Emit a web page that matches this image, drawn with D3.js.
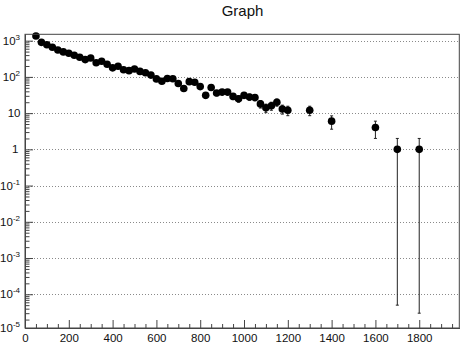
<html><head><meta charset="UTF-8">
  <style>
    body { margin: 0; background: white; font-family: "Liberation Sans", Helvetica, Arial, sans-serif; }
    svg { display: block; }
  </style>
</head>
<body>
  <svg id="chart">
    <g id="grid"></g>
    <g id="xAxis"></g>
    <g id="xMinor"></g>
    <g id="yAxis"></g>
    <g id="yMinor"></g>
    <g id="bars"></g>
    <g id="dots"></g>
  </svg>
  <script src="https://cdn.jsdelivr.net/npm/d3@7"></script>
  <script>
    // data
    var xValues = [50, 75, 100, 125, 150, 175, 200, 225, 250, 275,
                   300, 325, 350, 375, 400, 425, 450, 475, 500, 525,
                   550, 575, 600, 625, 650, 675, 700, 725, 750, 775,
                   800, 825, 850, 875, 900, 925, 950, 975, 1000, 1025,
                   1050, 1075, 1100, 1125, 1150, 1175, 1200, 1300, 1400, 1600,
                   1700, 1800];
    var yValues = [1350, 900, 775, 660, 555, 490, 450, 395, 348, 300,
                   332, 246, 270, 223, 178, 196, 158, 149, 166, 142,
                   130, 112, 88, 76, 90, 89, 66, 48, 74, 71,
                   54, 31, 51, 36, 38, 38, 29, 25, 31, 28,
                   27, 18, 14, 16, 20, 13, 12, 12, 6, 4,
                   1, 1];
    var yErrors = [36.7, 30, 27.8, 25.7, 23.6, 22.1, 21.2, 19.9, 18.7, 17.3,
                   18.2, 15.7, 16.4, 14.9, 13.3, 14, 12.6, 12.2, 12.9, 11.9,
                   11.4, 10.6, 9.4, 8.7, 9.5, 9.4, 8.1, 6.9, 8.6, 8.4,
                   7.3, 5.6, 7.1, 6, 6.2, 6.2, 5.4, 5, 5.6, 5.3,
                   5.2, 4.2, 3.7, 4, 4.5, 3.6, 3.5, 3.5, 2.4, 2,
                   0.99995, 0.99997];
    var xMajorTicks = [0, 200, 400, 600, 800, 1000, 1200, 1400, 1600, 1800];
    var yMajorTicks = [1e-4, 1e-3, 1e-2, 1e-1, 1, 10, 100, 1000];
    var titleText = "Graph";

    var width = 474, height = 349;
    var padLeft = 25, padRight = 459.3, padTop = 34.3, padBottom = 328;

    var points = xValues.map(function (d, i) {
      return {x: d, y: yValues[i], e: yErrors[i]};
    });

    var svg = d3.select("#chart").attr("width", width).attr("height", height);

    var xScale = d3.scaleLinear().domain([0, 1983]).range([padLeft, padRight]);
    var yScale = d3.scaleLog().domain([1.17e-5, 1500]).range([padBottom, padTop]);
    var yMin = yScale.domain()[0];

    // minor tick values
    var xMinorTicks = d3.range(0, 1983, 50).filter(function (d) { return d % 200 != 0; });
    var yMinorTicks = [];
    for (var p = -5; p <= 3; p++) {
      for (var m = 2; m <= 9; m++) {
        var v = m * Math.pow(10, p);
        if (v > yScale.domain()[0] && v < yScale.domain()[1]) yMinorTicks.push(v);
      }
    }

    // grid
    svg.select("#grid").selectAll("line")
      .data(yMajorTicks)
      .enter().append("line")
      .attr("x1", padLeft).attr("x2", padRight)
      .attr("y1", function (d) { return Math.round(yScale(d)) + 0.5; })
      .attr("y2", function (d) { return Math.round(yScale(d)) + 0.5; })
      .attr("stroke", "#8a8a8a")
      .attr("stroke-dasharray", "1,2");

    // frame
    svg.append("rect")
      .attr("x", padLeft).attr("y", padTop)
      .attr("width", padRight - padLeft).attr("height", padBottom - padTop)
      .attr("fill", "none").attr("stroke", "#444");

    // x axis
    var xAxis = d3.axisBottom(xScale).tickValues(xMajorTicks)
      .tickSize(-8).tickSizeOuter(0).tickPadding(6)
      .tickFormat(d3.format("d"));
    d3.select("#xAxis").attr("transform", "translate(0," + padBottom + ")").call(xAxis);
    var xMinorAxis = d3.axisBottom(xScale).tickValues(xMinorTicks)
      .tickSize(-4).tickSizeOuter(0).tickFormat("");
    d3.select("#xMinor").attr("transform", "translate(0," + padBottom + ")").call(xMinorAxis);

    // y axis
    var yAxis = d3.axisLeft(yScale).tickValues(yMajorTicks)
      .tickSize(-8).tickSizeOuter(0).tickPadding(5)
      .tickFormat("");
    d3.select("#yAxis").attr("transform", "translate(" + padLeft + ",0)").call(yAxis);
    var yMinorAxis = d3.axisLeft(yScale).tickValues(yMinorTicks)
      .tickSize(-4.5).tickSizeOuter(0).tickFormat("");
    d3.select("#yMinor").attr("transform", "translate(" + padLeft + ",0)").call(yMinorAxis);

    svg.selectAll(".domain").attr("stroke", "#444");
    svg.selectAll(".tick line").attr("stroke", "#444");
    svg.selectAll("#xAxis text").attr("font-size", "11.5px").attr("fill", "#111")
      .attr("font-family", "Liberation Sans, Arial, sans-serif");

    // y labels with exponents
    var yLabels = [-5, -4, -3, -2, -1, 0, 1, 2, 3];
    var labelG = svg.append("g")
      .attr("font-size", "11.5px").attr("fill", "#111").attr("text-anchor", "end");
    yLabels.forEach(function (p) {
      var yy = p == -5 ? padBottom : yScale(Math.pow(10, p));
      var t = labelG.append("text").attr("x", 20).attr("y", yy + 4);
      if (p == 0) { t.text("1"); t.attr("x", 18.5); }
      else if (p == 1) { t.text("10"); t.attr("x", 20.5); }
      else {
        t.append("tspan").text("10");
        t.append("tspan").attr("dy", -5).attr("font-size", "8px").text(p);
      }
    });

    // error bars
    var bars = svg.select("#bars").selectAll("g")
      .data(points).enter().append("g").attr("stroke", "#222");
    bars.append("line")
      .attr("x1", function (d) { return xScale(d.x); })
      .attr("x2", function (d) { return xScale(d.x); })
      .attr("y1", function (d) { return yScale(Math.max(d.y - d.e, yMin)); })
      .attr("y2", function (d) { return yScale(d.y + d.e); });
    bars.append("line")
      .attr("x1", function (d) { return xScale(d.x) - 1.5; })
      .attr("x2", function (d) { return xScale(d.x) + 1.5; })
      .attr("y1", function (d) { return yScale(d.y + d.e); })
      .attr("y2", function (d) { return yScale(d.y + d.e); });
    bars.append("line")
      .attr("x1", function (d) { return xScale(d.x) - 1.5; })
      .attr("x2", function (d) { return xScale(d.x) + 1.5; })
      .attr("y1", function (d) { return yScale(Math.max(d.y - d.e, yMin)); })
      .attr("y2", function (d) { return yScale(Math.max(d.y - d.e, yMin)); });

    // markers
    svg.select("#dots").selectAll("circle")
      .data(points).enter().append("circle")
      .attr("cx", function (d) { return xScale(d.x); })
      .attr("cy", function (d) { return yScale(d.y); })
      .attr("r", 3.8)
      .attr("fill", "#000");

    // title
    svg.append("text")
      .attr("x", 242.5).attr("y", 15.5)
      .attr("text-anchor", "middle")
      .attr("font-size", "15px")
      .attr("fill", "#111")
      .text(titleText);
  </script>
</body></html>
